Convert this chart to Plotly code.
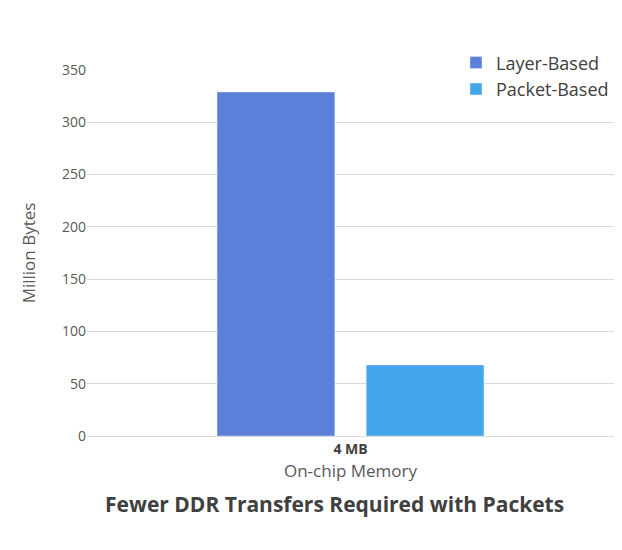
import plotly.graph_objects as go

categorias = ["<b>4 MB</b>"]
layer_based = [329]
packet_based = [68]

fig = go.Figure()
fig.add_trace(go.Bar(x=categorias, y=layer_based, name="Layer-Based", marker_color="#5B80DA"))
fig.add_trace(go.Bar(x=categorias, y=packet_based, name="Packet-Based", marker_color="#43A6EA"))

fig.update_layout(
    width=622, height=550,
    font=dict(family="Open Sans", size=14, color="#595959"),
    plot_bgcolor="white", paper_bgcolor="white",
    margin=dict(l=79, r=16, t=62, b=122),
    barmode="group", bargap=0.434, bargroupgap=0.21,
    legend=dict(x=1, y=1.07, xanchor="right", yanchor="top", font=dict(size=18, color="#404040"),
                bgcolor="rgba(0,0,0,0)", itemwidth=30),
    showlegend=True,
)
fig.update_yaxes(range=[0, 350], dtick=50, gridcolor="#D9D9D9", zeroline=False,
                 title=dict(text="Million Bytes", standoff=22), ticks="", tickfont=dict(size=14))
fig.update_xaxes(showline=True, linecolor="#D9D9D9", title=dict(text="On-chip Memory", standoff=8),
                 tickfont=dict(size=14, color="#404040"))
fig.add_annotation(text="<b>Fewer DDR Transfers Required with Packets</b>", xref="paper", yref="paper",
                   x=0.47, y=-0.23, showarrow=False, font=dict(size=21, color="#404040"))

fig.write_html("out.html")
